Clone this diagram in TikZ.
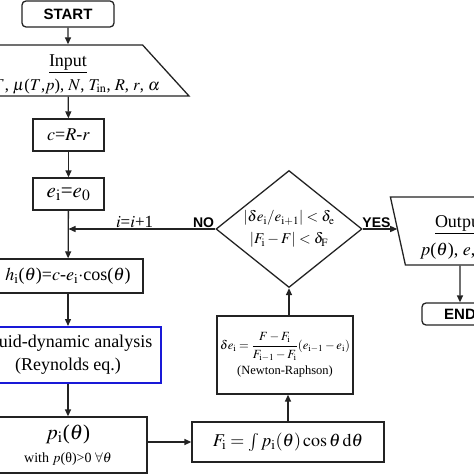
\documentclass[tikz,border=0pt]{standalone}
\usepackage{mathptmx}
\usepackage{fontspec}
\setmainfont{Liberation Serif}
\newfontfamily\labelsans{Liberation Sans}
\usetikzlibrary{shapes.geometric,arrows.meta}

\definecolor{linegray}{RGB}{35,35,35}
\definecolor{boxblue}{RGB}{25,25,215}

\tikzset{
  block/.style={draw=linegray,line width=1.3pt,rectangle,inner sep=0pt,align=center},
  terminal/.style={block,rounded corners=4pt,font=\labelsans\bfseries\fontsize{15}{17}\selectfont},
  io/.style={draw=linegray,line width=1.3pt,trapezium,trapezium stretches=true,inner sep=0pt},
  iotext/.style={align=center,inner sep=0pt},
  flow/.style={draw=linegray,line width=1.3pt,-{Triangle[length=7pt,width=6pt]}},
  tag/.style={font=\labelsans\bfseries\fontsize{14}{16}\selectfont,inner sep=1pt}
}

\begin{document}
\begin{tikzpicture}[x=1pt,y=-1pt,font=\fontsize{18}{23}\selectfont]
    \useasboundingbox (0,0) rectangle (474,474);
    \clip (0,0) rectangle (474,474);

    % left column
    \node[terminal,minimum width=92pt,minimum height=26pt] (start) at (68,14) {START};
    \node[io,minimum width=244pt,minimum height=51pt,trapezium left angle=47,trapezium right angle=47] (input) at (68,70.5)
        {\phantom{\rule{60pt}{20pt}}};
    \node[iotext] (intext) at (68,74)
        {\underline{Input}\\[1pt]\makebox[184pt][r]{\fontsize{16.5}{19}\selectfont$T$, $\mu$($T$,$p$), $N$, $T_{\rm in}$, $R$, $r$, $\alpha$}};
    \node[block,minimum width=71pt,minimum height=32pt] (radial) at (68.5,135) {$c$=$R$-$r$};
    \node[block,minimum width=71pt,minimum height=32pt,font=\fontsize{21}{24}\selectfont] (ecc) at (68.5,194) {$e_{\rm i}$=$e_0$};
    \node[block,minimum width=150pt,minimum height=34pt] (film) at (68,276) {$h_{\rm i}$($\theta$)=$c$-$e_{\rm i}$$\cdot$cos($\theta$)};
    \node[block,draw=boxblue,line width=2pt,minimum width=186pt,minimum height=56pt] (reyn) at (68,355) {Fluid-dynamic analysis\\(Reynolds eq.)};
    \node[block,minimum width=158pt,minimum height=56pt] (press) at (68,445)
        {{\fontsize{21}{23}\selectfont$p_{\rm i}$($\theta$)}\\{\fontsize{14}{16}\selectfont with $p$(θ)>0 $\forall\theta$}};

    % middle column
    \node[block,minimum width=192pt,minimum height=40pt] (force) at (288,442)
        {$F_{\rm i}=\int p_{\rm i}(\theta)\cos\theta\,{\rm d}\theta$};
    \node[block,minimum width=136pt,minimum height=78pt,font=\fontsize{12.5}{15}\selectfont] (newton) at (285,355)
        {$\delta e_{\rm i}=\displaystyle\frac{F-F_{\rm i}}{F_{\rm i-1}-F_{\rm i}}(e_{\rm i-1}-e_{\rm i})$\\[4pt](Newton-Raphson)};
    \node[draw=linegray,line width=1.3pt,diamond,aspect=1.25,inner sep=0pt,minimum width=146pt,minimum height=117pt,
          align=center,font=\fontsize{15}{22}\selectfont] (check) at (289,229)
        {$\left|\delta e_{\rm i}/e_{\rm i+1}\right|<\delta_{\rm e}$\\$\left|F_{\rm i}-F\right|<\delta_{\rm F}$};

    % right column
    \node[io,shape border rotate=180,minimum width=140pt,minimum height=68pt,trapezium left angle=67.6,trapezium right angle=67.6] (output) at (460,231)
        {\phantom{\rule{60pt}{20pt}}};
    \node[iotext] (outtext) at (460,237)
        {\underline{Output}\\[5pt]\makebox[80pt][l]{$p$($\theta$), $e$,}};
    \node[terminal,minimum width=76pt,minimum height=22pt] (stop) at (460,314) {END};

    % connectors
    \draw[flow] (start) -- (input);
    \draw[flow] (input) -- (radial);
    \draw[flow] (radial) -- (ecc);
    \draw[flow] (ecc) -- (film);
    \draw[flow] (film) -- (reyn);
    \draw[flow] (reyn) -- (press);
    \draw[flow] (press.east |- force) -- (force.west);
    \draw[flow] (force) -- (force.north |- newton.south);
    \draw[flow] (newton.north -| check) -- (check.south);
    \draw[flow] (check.west) -- node[tag,pos=0.08,above] (nolabel) {NO}
        node[pos=0.55,above,inner sep=1pt,font=\fontsize{17}{19}\selectfont] (incr) {$i$=$i$+1} (check.west -| ecc);
    \draw[flow] (check.east) -- node[tag,pos=0.4,above] (yeslabel) {YES} (check.east -| output.west);
    \draw[flow] (output) -- (stop);
\end{tikzpicture}
\end{document}
